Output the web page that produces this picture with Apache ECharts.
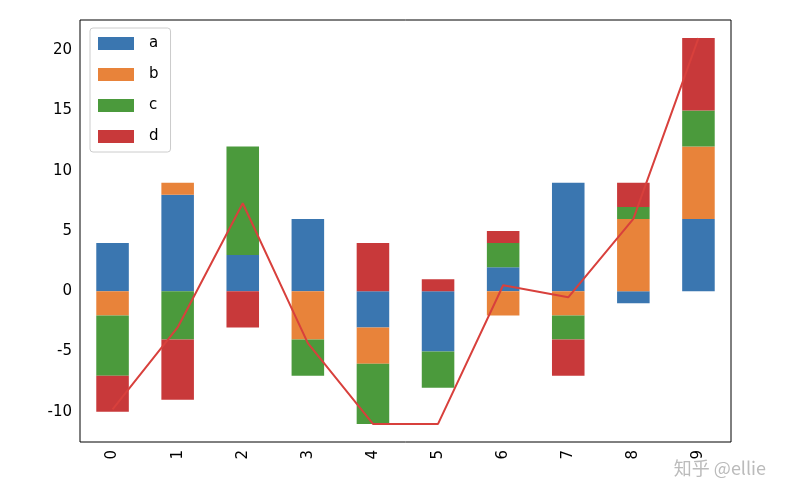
<!DOCTYPE html><html><head><meta charset="utf-8"><script src="https://cdn.jsdelivr.net/npm/echarts@6/dist/echarts.min.js"></script></head><body style="margin:0;background:#fff"><div id="c" style="width:788px;height:499px"></div><script>
const categories=['0','1','2','3','4','5','6','7','8','9'];
const a=[4,8,3,6,-3,-5,2,9,-1,6];
const b=[-2,1,0,-4,-3,0,-2,-2,6,6];
const c=[-5,-4,9,-3,-5,-3,2,-2,1,3];
const d=[-3,-5,-3,0,4,1,1,-3,2,6];
const lineVals=[-9.8,-3,7.3,-4.3,-11,-11,0.5,-0.5,6,21];
const ch=echarts.init(document.getElementById('c'));
const bar=(n,data,col)=>({name:n,type:'bar',stack:'s',data,barWidth:'50%',itemStyle:{color:col}});
ch.setOption({animation:false,
grid:{left:80,right:57,top:20,bottom:57,show:true,borderColor:'#000',borderWidth:1},
legend:{left:90,top:28,orient:'vertical',icon:'rect',itemWidth:36,itemHeight:13,itemGap:16,backgroundColor:'#fff',borderColor:'#ccc',borderWidth:1,borderRadius:3,padding:[8,12,8,8],textStyle:{fontFamily:'DejaVu Sans',fontSize:15,color:'#000',padding:[0,0,0,10]},data:['a','b','c','d']},
xAxis:{type:'category',data:categories,axisLine:{show:false},axisTick:{alignWithLabel:true,lineStyle:{color:'#000'}},axisLabel:{rotate:90,color:'#000',fontFamily:'DejaVu Sans',fontSize:15}},
yAxis:{type:'value',min:-12.5,max:22.5,interval:2.5,splitLine:{show:false},axisLine:{show:false},axisTick:{show:false},axisLabel:{color:'#000',fontFamily:'DejaVu Sans',fontSize:15,formatter:v=>v%5===0?String(v):''}},
series:[bar('a',a,'#3a76b0'),bar('b',b,'#e8833a'),bar('c',c,'#4b9a3c'),bar('d',d,'#c8393a'),
{name:'line',type:'line',data:lineVals,symbol:'none',lineStyle:{color:'#d8403c',width:2},itemStyle:{color:'#d8403c'}}],
graphic:[{type:'text',right:22,bottom:22,style:{text:'知乎 @ellie',fill:'#bbb',font:'18px "Noto Sans CJK SC"'}}]
});
</script></body></html>
